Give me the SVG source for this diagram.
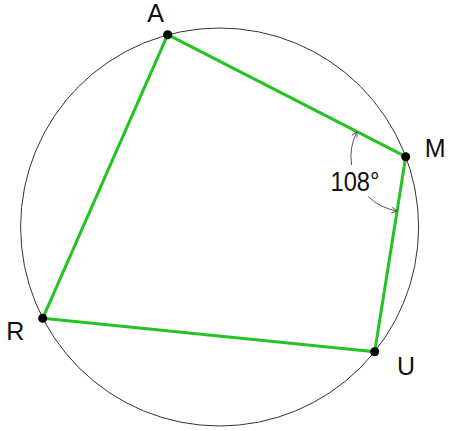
<svg xmlns="http://www.w3.org/2000/svg" width="450" height="431" viewBox="0 0 450 431">
<defs>
<style>
.lbl{font-family:"Liberation Sans",Arial,sans-serif;font-size:25px;fill:#111;}
.edge{stroke:#22c322;stroke-width:3;fill:none;stroke-linecap:round;}
.arc{stroke:#555;stroke-width:1;fill:none;}
.pt{fill:#000;}
</style>
<marker id="ah" viewBox="0 0 10 10" refX="9" refY="5" markerWidth="7" markerHeight="7" markerUnits="userSpaceOnUse" orient="auto">
<path d="M1,1 L9,5 L1,9" fill="none" stroke="#555" stroke-width="1.3"/>
</marker>
</defs>
<rect width="450" height="431" fill="#fff"/>
<circle cx="219.6" cy="227" r="199" fill="none" stroke="#333" stroke-width="1"/>
<g id="connectors">
<line class="edge" x1="167.7" y1="34.7" x2="405.7" y2="156.7"/>
<line class="edge" x1="405.7" y1="156.7" x2="374.7" y2="351.7"/>
<line class="edge" x1="374.7" y1="351.7" x2="42.7" y2="318.3"/>
<line class="edge" x1="42.7" y1="318.3" x2="167.7" y2="34.7"/>
<path class="arc" d="M351.6,165 A55,55 0 0 1 357,131.6" marker-end="url(#ah)"/>
<path class="arc" d="M368.3,196.7 A55,55 0 0 0 397.3,211" marker-end="url(#ah)"/>
</g>
<g id="node-A"><circle class="pt" cx="167.7" cy="34.7" r="4.5"/><text class="lbl" x="155.5" y="21.7" text-anchor="middle">A</text></g>
<g id="node-M"><circle class="pt" cx="405.7" cy="156.7" r="4.5"/><text class="lbl" x="424.8" y="156.7">M</text></g>
<g id="node-U"><circle class="pt" cx="374.7" cy="351.7" r="4.5"/><text class="lbl" x="397" y="375">U</text></g>
<g id="node-R"><circle class="pt" cx="42.7" cy="318.3" r="4.5"/><text class="lbl" x="6.3" y="340">R</text></g>
<g id="angle-label"><text class="lbl" x="330.5" y="191" style="font-size:27px" textLength="49" lengthAdjust="spacingAndGlyphs">108°</text></g>
</svg>
